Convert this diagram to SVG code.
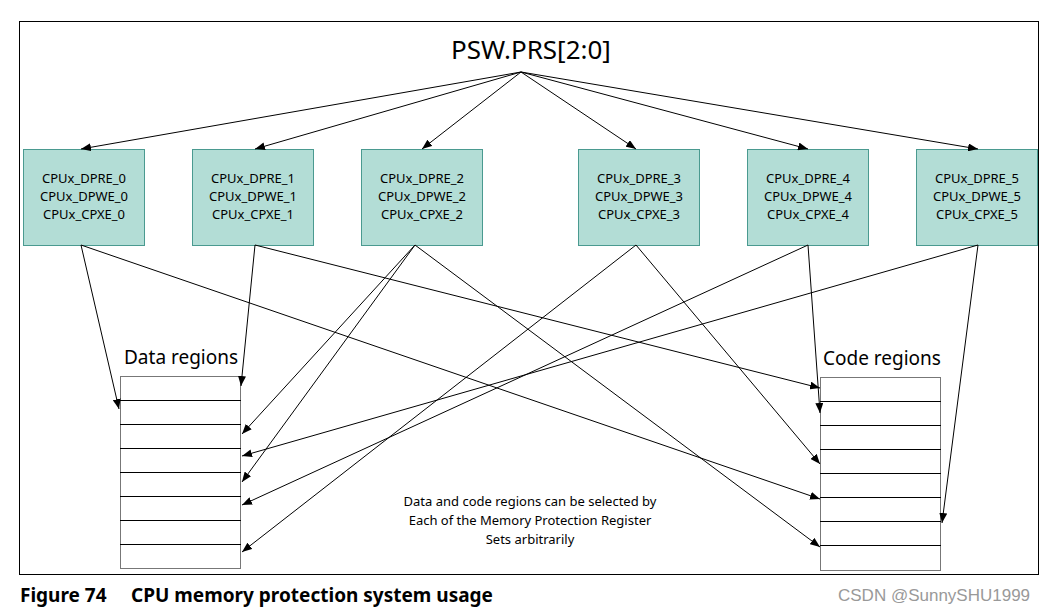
<svg xmlns="http://www.w3.org/2000/svg" width="1064" height="613" viewBox="0 0 1064 613">
<defs>
<marker id="a" markerWidth="10" markerHeight="8" refX="10" refY="4" orient="auto" markerUnits="userSpaceOnUse"><path d="M0,0L10,4L0,8z" fill="#000"/></marker>
<style>
.n rect{fill:#b3ddd6;stroke:#4a9a90;stroke-width:1}
.n text{font-family:"Noto Sans","Open Sans",sans-serif;font-size:13px;text-anchor:middle;fill:#000}
.c line{stroke:#000;stroke-width:1;marker-end:url(#a)}
.r rect{fill:#fff;stroke:#777}
.r line{stroke:#000}
.t{font-family:"Noto Sans","Open Sans",sans-serif;fill:#000}
</style>
</defs>
<rect width="1064" height="613" fill="#fff"/>
<rect x="19.5" y="21.5" width="1019" height="553" fill="none" stroke="#000"/>
<text class="t" x="531" y="59" font-size="26" text-anchor="middle">PSW.PRS[2:0]</text>
<g id="n0" class="n"><rect x="23.5" y="149.5" width="121" height="96"/><text x="84" y="183">CPUx_DPRE_0</text><text x="84" y="201">CPUx_DPWE_0</text><text x="84" y="219">CPUx_CPXE_0</text></g>
<g id="n1" class="n"><rect x="192.5" y="149.5" width="121" height="96"/><text x="253" y="183">CPUx_DPRE_1</text><text x="253" y="201">CPUx_DPWE_1</text><text x="253" y="219">CPUx_CPXE_1</text></g>
<g id="n2" class="n"><rect x="361.5" y="149.5" width="121" height="96"/><text x="422" y="183">CPUx_DPRE_2</text><text x="422" y="201">CPUx_DPWE_2</text><text x="422" y="219">CPUx_CPXE_2</text></g>
<g id="n3" class="n"><rect x="578.5" y="149.5" width="121" height="96"/><text x="639" y="183">CPUx_DPRE_3</text><text x="639" y="201">CPUx_DPWE_3</text><text x="639" y="219">CPUx_CPXE_3</text></g>
<g id="n4" class="n"><rect x="747.5" y="149.5" width="121" height="96"/><text x="808" y="183">CPUx_DPRE_4</text><text x="808" y="201">CPUx_DPWE_4</text><text x="808" y="219">CPUx_CPXE_4</text></g>
<g id="n5" class="n"><rect x="916.5" y="149.5" width="121" height="96"/><text x="977" y="183">CPUx_DPRE_5</text><text x="977" y="201">CPUx_DPWE_5</text><text x="977" y="219">CPUx_CPXE_5</text></g>
<g id="data" class="r">
<text class="t" x="124" y="364" font-size="19">Data regions</text>
<rect x="120.5" y="376.5" width="120" height="192"/>
<line x1="120" y1="400.5" x2="241" y2="400.5"/><line x1="120" y1="424.5" x2="241" y2="424.5"/><line x1="120" y1="448.5" x2="241" y2="448.5"/><line x1="120" y1="472.5" x2="241" y2="472.5"/><line x1="120" y1="496.5" x2="241" y2="496.5"/><line x1="120" y1="520.5" x2="241" y2="520.5"/><line x1="120" y1="544.5" x2="241" y2="544.5"/>
</g>
<g id="code" class="r">
<text class="t" x="823" y="365" font-size="19">Code regions</text>
<rect x="820.5" y="377.5" width="120" height="193"/>
<line x1="820" y1="401.5" x2="941" y2="401.5"/><line x1="820" y1="425.5" x2="941" y2="425.5"/><line x1="820" y1="449.5" x2="941" y2="449.5"/><line x1="820" y1="473.5" x2="941" y2="473.5"/><line x1="820" y1="497.5" x2="941" y2="497.5"/><line x1="820" y1="521.5" x2="941" y2="521.5"/><line x1="820" y1="545.5" x2="941" y2="545.5"/>
</g>
<g id="connectors" class="c">
<line x1="521" y1="72" x2="81" y2="149"/>
<line x1="521" y1="72" x2="255" y2="149"/>
<line x1="521" y1="72" x2="422" y2="149"/>
<line x1="521" y1="72" x2="636" y2="149"/>
<line x1="521" y1="72" x2="808" y2="149"/>
<line x1="521" y1="72" x2="978" y2="149"/>
<line x1="81" y1="245" x2="119" y2="409"/>
<line x1="81" y1="245" x2="820" y2="499"/>
<line x1="255" y1="245" x2="241" y2="386"/>
<line x1="255" y1="245" x2="820" y2="388"/>
<line x1="415" y1="245" x2="242" y2="434"/>
<line x1="415" y1="245" x2="242" y2="482"/>
<line x1="415" y1="245" x2="820" y2="547"/>
<line x1="636" y1="245" x2="242" y2="552"/>
<line x1="636" y1="245" x2="820" y2="464"/>
<line x1="808" y1="245" x2="820" y2="413"/>
<line x1="808" y1="245" x2="242" y2="505"/>
<line x1="978" y1="245" x2="942" y2="523"/>
<line x1="978" y1="245" x2="242" y2="456"/>
</g>
<g class="t" font-size="13" text-anchor="middle"><text x="530" y="506">Data and code regions can be selected by</text><text x="530" y="525">Each of the Memory Protection Register</text><text x="530" y="544">Sets arbitrarily</text></g>
<text class="t" x="20" y="602" font-size="19" font-weight="bold">Figure 74<tspan x="131">CPU memory protection system usage</tspan></text>
<text x="838" y="601" font-family="Liberation Sans,sans-serif" font-size="17" fill="#999">CSDN @SunnySHU1999</text>
</svg>
